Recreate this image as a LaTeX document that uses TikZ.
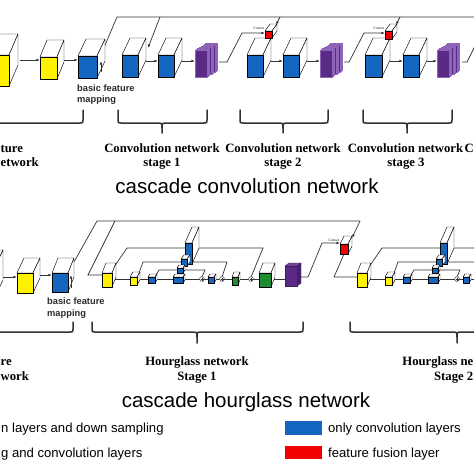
\documentclass[tikz,border=0pt]{standalone}
\usepackage{fontspec}
\setmainfont{Liberation Serif}
\setsansfont{Liberation Sans}
\usetikzlibrary{arrows.meta}
\definecolor{cyel}{HTML}{FFF200}
\definecolor{cblue}{HTML}{1466C0}
\definecolor{cred}{HTML}{F20000}
\definecolor{cgreen}{HTML}{1E8C32}
\definecolor{cpurp}{HTML}{5A2A86}
\definecolor{cpurpl}{HTML}{8E64B8}
\definecolor{cline}{HTML}{333333}
\definecolor{ctext}{HTML}{2B2B2B}
% x y w h dx dy colour  (dy = upward depth offset)
\newcommand{\bcube}[7]{%
  \filldraw[cubeedge,fill=white] (#1,#2) -- (#1+#5,#2-#6) -- (#1+#3+#5,#2-#6) -- (#1+#3,#2) -- cycle;
  \filldraw[cubeedge,fill=white] (#1+#3,#2) -- (#1+#3+#5,#2-#6) -- (#1+#3+#5,#2+#4-#6) -- (#1+#3,#2+#4) -- cycle;
  \filldraw[cubeedge,fill=#7] (#1,#2) rectangle (#1+#3,#2+#4);
}
\newcommand{\pcube}[6]{%
  \filldraw[draw=cpurp!70!black,line width=0.4pt,fill=cpurp!85!white] (#1,#2) -- (#1+#5,#2-#6) -- (#1+#3+#5,#2-#6) -- (#1+#3,#2) -- cycle;
  \filldraw[draw=cpurp!70!black,line width=0.4pt,fill=cpurp!80!black] (#1+#3,#2) -- (#1+#3+#5,#2-#6) -- (#1+#3+#5,#2+#4-#6) -- (#1+#3,#2+#4) -- cycle;
  \filldraw[draw=cpurp!70!black,line width=0.4pt,fill=cpurp] (#1,#2) rectangle (#1+#3,#2+#4);
}
\newcommand{\fstack}[4]{%
  \foreach \k in {8,7,...,0}{%
    \filldraw[draw=cpurpl,fill=cpurp,line width=0.35pt] (#1+\k*1.3,#2-\k*0.8) rectangle (#1+\k*1.3+#3,#2-\k*0.8+#4);
  }%
}
\newcommand{\ubrace}[6]{%
  \draw[brc] (#1,#4) -- (#1,#5-3) .. controls (#1,#5) .. (#1+3,#5) -- (#2-5,#5) .. controls (#2,#5) .. (#2,#5+5) -- (#2,#6);
  \draw[brc] (#2,#5+5) .. controls (#2,#5) .. (#2+5,#5) -- (#3-3,#5) .. controls (#3,#5) .. (#3,#5-3) -- (#3,#4);
}
\newcommand{\opl}[2]{%
  \filldraw[draw=cline,fill=white,line width=0.5pt] (#1,#2) circle (2.4);
  \draw[draw=cline,line width=0.4pt] (#1-1.5,#2) -- (#1+1.5,#2) (#1,#2-1.5) -- (#1,#2+1.5);
}
\newcommand{\hgcore}{%
  \draw[conn] (116,264) -- (127,248) -- (263,248) -- (251,277);
  \draw[conn] (139,273) -- (143,262) -- (227,262) -- (222,277);
  \draw[conn] (156,275) -- (159,270) -- (205,270) -- (202,277);
  \draw[conn] (112,279) -- (286,279);
  \bcube{102}{273}{10}{14}{4}{10}{cyel}
  \bcube{130}{277}{7}{8}{3}{5}{cyel}
  \bcube{148}{277}{7}{6}{2}{3}{cblue}
  \bcube{185}{243}{7}{21}{7}{16}{cblue}
  \bcube{181}{259}{6}{7}{3}{4}{cblue}
  \bcube{177}{268}{6}{5}{2}{3}{cblue}
  \bcube{173}{277}{10}{6}{2}{3}{cblue}
  \bcube{208}{277}{6}{6}{2}{3}{cblue}
  \bcube{232}{277}{6}{8}{2}{5}{cgreen}
  \bcube{259}{273}{12}{14}{4}{10}{cgreen}
  \pcube{285}{266}{12}{20}{4}{3}
  \opl{202}{279}
  \opl{222}{279}
  \opl{251}{279}
}
\begin{document}
\begin{tikzpicture}[x=1pt,y=-1pt,
  cubeedge/.style={draw=black,line width=0.45pt,line join=round},
  conn/.style={draw=cline,line width=0.7pt},
  arr/.style={conn,-{Latex[length=3.6pt,width=2.6pt]}},
  brc/.style={draw=cline,line width=1.5pt,line cap=round},
  lbl/.style={font=\fontsize{12.7}{14}\selectfont\bfseries,text=black,inner sep=0pt},
  bfm/.style={font=\sffamily\bfseries\fontsize{9.3}{11}\selectfont,text=ctext,inner sep=0pt,anchor=base west},
  ttl/.style={font=\sffamily\fontsize{20.5}{22}\selectfont,text=black,inner sep=0pt,anchor=base},
  lgd/.style={font=\sffamily\fontsize{13.1}{14}\selectfont,text=black,inner sep=0pt,anchor=base west},
  tinyl/.style={font=\fontsize{3.6}{4}\selectfont,text=black,inner sep=0pt,anchor=base east}]
\useasboundingbox (0,0) rectangle (474,474);
\fill[white] (0,0) rectangle (474,474);
\clip (0,0) rectangle (474,474);

% ================= row 1: cascade convolution network =================
\draw[conn] (103,50) -- (117,17) -- (480,17);
\bcube{-20}{55}{29}{31}{9}{21}{cyel}
\bcube{40}{57}{17}{22}{7}{17}{cyel}
\bcube{78}{56}{19}{22}{8}{17}{cblue}
\bcube{122}{55}{16}{22}{8}{17}{cblue}
\bcube{158}{55}{16}{22}{8}{17}{cblue}
\fstack{195}{50}{12}{27}
\bcube{247}{55}{16}{22}{8}{17}{cblue}
\bcube{265}{31}{7}{7}{5}{7}{cred}
\bcube{283}{55}{16}{22}{8}{17}{cblue}
\fstack{320}{50}{12}{27}
\bcube{365}{55}{17}{22}{8}{17}{cblue}
\bcube{385}{31}{7}{8}{5}{7}{cred}
\bcube{403}{55}{16}{22}{8}{17}{cblue}
\fstack{437}{50}{12}{27}

\draw[arr] (20,60) -- (40,60);
\draw[arr] (64,60) -- (78,60);
\draw[arr] (101,72) -- (101,61);
\draw[arr] (160,17) -- (148,48);
\draw[arr] (146,61) -- (158,61);
\draw[arr] (182,61) -- (195,61);
\draw[arr] (219,62) -- (227,62) -- (242,33) -- (265,33);
\draw[arr] (280,17) -- (276,25);
\draw[arr] (271,61) -- (283,61);
\draw[arr] (307,61) -- (320,61);
\draw[arr] (344,62) -- (349,62) -- (364,33) -- (385,33);
\draw[arr] (400,17) -- (396,25);
\draw[arr] (390,61) -- (403,61);
\draw[arr] (427,61) -- (437,61);
\draw[conn] (462,62) -- (467,62) -- (476,44);

\node[tinyl] at (264,29.5) {Concat};
\node[tinyl] at (384,29.5) {Concat};
\node[bfm] at (77,91) {basic feature};
\node[bfm] at (77,102) {mapping};

\ubrace{-60}{-20}{83}{110}{123}{133}
\ubrace{118}{162}{207}{110}{123}{133}
\ubrace{240}{283}{328}{110}{123}{133}
\ubrace{363}{407}{452}{110}{123}{133}

\node[lbl,anchor=base west] at (0.5,152) {ture};
\node[lbl,anchor=base west] at (0.5,166) {etwork};
\node[lbl,anchor=base] at (162,152) {Convolution network};
\node[lbl,anchor=base] at (162,166) {stage 1};
\node[lbl,anchor=base] at (283,152) {Convolution network};
\node[lbl,anchor=base] at (283,166) {stage 2};
\node[lbl,anchor=base] at (405.5,152) {Convolution network};
\node[lbl,anchor=base] at (406,166) {stage 3};
\node[lbl,anchor=base east] at (474,152) {C};
\node[ttl] at (247,193) {cascade convolution network};

% ================= row 2: cascade hourglass network =================
\draw[conn] (74,262) -- (97,221) -- (360,221);
\draw[arr] (360,221) -- (352,238);
\draw[conn] (115,221) -- (88,275) -- (102,275);
\bcube{-25}{265}{21}{30}{7}{15}{cyel}
\bcube{17}{273}{16}{20}{7}{15}{cyel}
\bcube{52}{273}{16}{19}{6}{15}{cblue}
\draw[arr] (3,277) -- (17,277);
\draw[arr] (40,275) -- (52,275);
\draw[arr] (71,288) -- (71,275);
\node[bfm] at (47,304) {basic feature};
\node[bfm] at (47,316) {mapping};

\hgcore
\begin{scope}[xshift=255pt]
\hgcore
\end{scope}

\draw[arr] (301,277) -- (308,277) -- (322,243) -- (340,243);
\draw[conn] (344,254) -- (334,277) -- (357,277);
\bcube{340}{244}{8}{10}{4}{8}{cred}
\node[tinyl] at (339,241.5) {Concat};

\ubrace{-60}{-30}{73}{322}{332}{343}
\ubrace{92}{197}{303}{322}{332}{343}
\ubrace{350}{457}{564}{322}{332}{343}

\node[lbl,anchor=base west] at (0.5,365) {re};
\node[lbl,anchor=base west] at (0.5,380) {work};
\node[lbl,anchor=base] at (197,365) {Hourglass network};
\node[lbl,anchor=base] at (197,380) {Stage 1};
\node[lbl,anchor=base east] at (473.5,365) {Hourglass ne};
\node[lbl,anchor=base east] at (473.5,380) {Stage 2};
\node[ttl] at (246,407) {cascade hourglass network};

% ================= legend =================
\node[lgd] at (1,432) {n layers and down sampling};
\node[lgd] at (1,457) {g and convolution layers};
\fill[cblue] (285,421) rectangle (322,435);
\fill[cred] (285,446) rectangle (322,459);
\node[lgd] at (328,432) {only convolution layers};
\node[lgd] at (328,457) {feature fusion layer};
\end{tikzpicture}
\end{document}
